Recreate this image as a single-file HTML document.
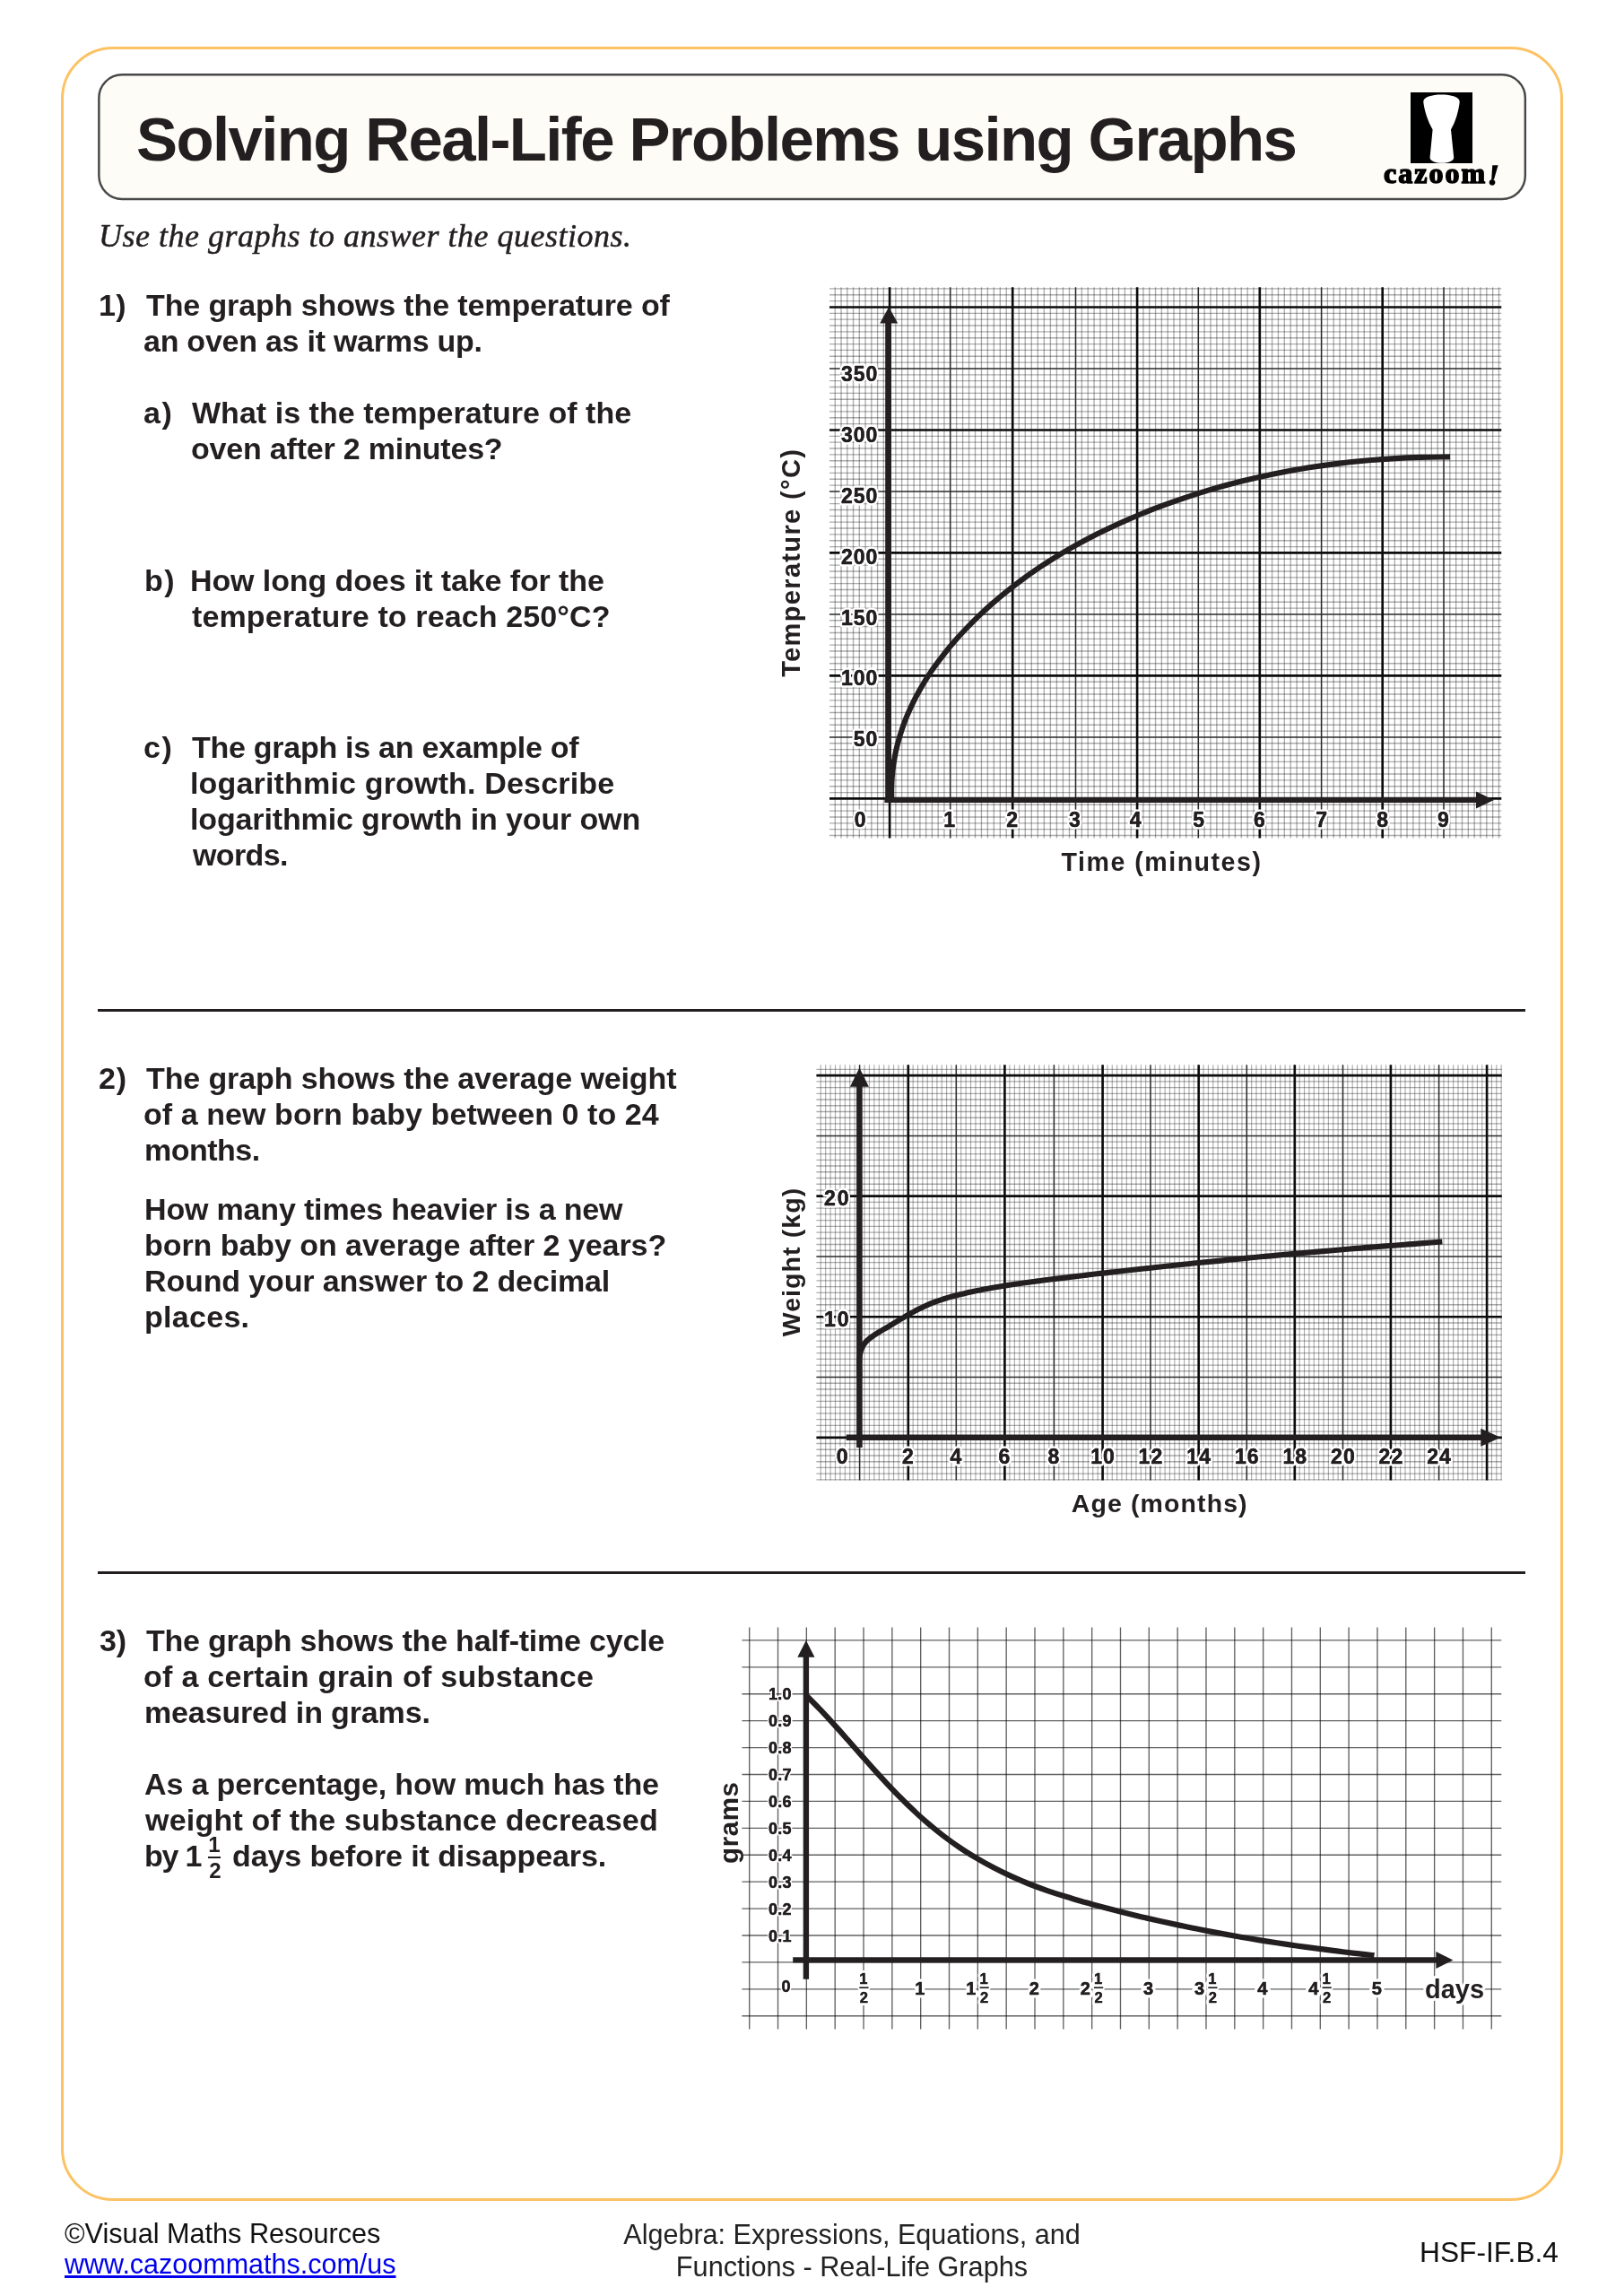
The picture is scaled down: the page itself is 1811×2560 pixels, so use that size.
<!DOCTYPE html>
<html><head><meta charset="utf-8"><title>Solving Real-Life Problems using Graphs</title>
<style>
html,body{margin:0;padding:0;background:#fff}
body>*{will-change:transform}
body{width:1811px;height:2560px;position:relative;overflow:hidden;font-family:"Liberation Sans",sans-serif;color:#231f20}
.frame{position:absolute;left:68px;top:51.7px;width:1668.9px;height:2395.7px;border:3px solid #fcc263;border-radius:58px}
.title{position:absolute;left:151.9px;top:116.4px;font-size:69px;font-weight:bold;line-height:80px;letter-spacing:-1.64px;white-space:nowrap;color:#231f20}
.sub{position:absolute;left:110px;top:242.2px;font-family:"Liberation Serif",serif;font-style:italic;font-size:36px;line-height:42px;letter-spacing:0.5px;-webkit-text-stroke:0.5px #231f20;white-space:nowrap;color:#231f20}
.q{position:absolute;font-size:34px;font-weight:bold;line-height:40px;white-space:nowrap;color:#231f20}
.rule{position:absolute;left:109.4px;width:1591.9px;height:3px;background:#231f20}
svg.g{position:absolute;left:0;top:0}
svg.g text{font-family:"Liberation Sans",sans-serif;font-weight:bold;fill:#231f20}
svg.g text.hl{paint-order:stroke;stroke:#fff;stroke-linejoin:round}
svg.g text.fx{stroke:#231f20;stroke-linejoin:round}
.ft{position:absolute;font-size:30.4px;line-height:36px;white-space:nowrap;color:#111}
.ft a{color:#0000ee;text-decoration:underline}
.logo{position:absolute;left:1572.5px;top:102.5px;width:69px;height:79px;background:#000}
.cz{position:absolute;left:1543px;top:175px;font-family:"Liberation Serif",serif;font-weight:bold;font-size:32px;line-height:36px;letter-spacing:2px;color:#000;-webkit-text-stroke:1.5px #000;white-space:nowrap}
.fr{position:absolute;font-size:24px;font-weight:bold;line-height:20px;color:#231f20;text-align:center;width:20px}
</style></head><body>
<div class="frame"></div>
<svg class="g" width="1811" height="240" viewBox="0 0 1811 240"><rect x="110.35" y="83.3" width="1590.5" height="138.6" rx="25.8" ry="25.8" fill="#fdfcf7" stroke="#484848" stroke-width="2.45"/></svg>
<div class="title">Solving Real-Life Problems using Graphs</div>
<div class="logo"><svg width="69" height="79" viewBox="0 0 69 79"><path d="M14.3 11 C13.4 5.2 24 2.6 34.5 2.6 C45 2.6 55.6 5.2 54.7 11 C53.4 21 50.5 32 45 41.5 L48.2 72.3 C48.6 77 41 78.8 34.9 78.8 C28.8 78.8 21.2 77 21.6 72.3 L24.6 41.5 C19.2 32 15.6 21 14.3 11 Z" fill="#fff"/></svg></div>
<div class="cz">cazoom<i style="position:relative;top:2.2px;left:1px">!</i></div>
<div class="sub">Use the graphs to answer the questions.</div>
<div class="q" style="left:109.5px;top:320.0px;letter-spacing:0.29px">1)</div>
<div class="q" style="left:162.6px;top:320.0px;letter-spacing:-0.11px">The graph shows the temperature of</div>
<div class="q" style="left:160.3px;top:360.0px;letter-spacing:-0.25px">an oven as it warms up.</div>
<div class="q" style="left:160.3px;top:440.0px;letter-spacing:1.60px">a)</div>
<div class="q" style="left:213.7px;top:440.0px;letter-spacing:0.03px">What is the temperature of the</div>
<div class="q" style="left:212.7px;top:480.0px;letter-spacing:-0.19px">oven after 2 minutes?</div>
<div class="q" style="left:160.6px;top:627.0px;letter-spacing:1.60px">b)</div>
<div class="q" style="left:211.7px;top:627.0px;letter-spacing:-0.10px">How long does it take for the</div>
<div class="q" style="left:213.7px;top:667.0px;letter-spacing:0.12px">temperature to reach 250°C?</div>
<div class="q" style="left:160.3px;top:813.0px;letter-spacing:1.60px">c)</div>
<div class="q" style="left:213.7px;top:813.0px;letter-spacing:-0.27px">The graph is an example of</div>
<div class="q" style="left:211.7px;top:853.0px;letter-spacing:0.17px">logarithmic growth. Describe</div>
<div class="q" style="left:211.7px;top:893.0px;letter-spacing:-0.14px">logarithmic growth in your own</div>
<div class="q" style="left:214.7px;top:933.0px;letter-spacing:-0.62px">words.</div>
<div class="q" style="left:109.7px;top:1182.0px;letter-spacing:0.89px">2)</div>
<div class="q" style="left:162.6px;top:1182.0px;letter-spacing:-0.11px">The graph shows the average weight</div>
<div class="q" style="left:160.3px;top:1222.0px;letter-spacing:0.07px">of a new born baby between 0 to 24</div>
<div class="q" style="left:160.6px;top:1262.0px;letter-spacing:-0.51px">months.</div>
<div class="q" style="left:160.6px;top:1328.0px;letter-spacing:-0.17px">How many times heavier is a new</div>
<div class="q" style="left:160.6px;top:1368.0px;letter-spacing:-0.05px">born baby on average after 2 years?</div>
<div class="q" style="left:160.6px;top:1408.0px;letter-spacing:-0.14px">Round your answer to 2 decimal</div>
<div class="q" style="left:160.6px;top:1448.0px;letter-spacing:0.29px">places.</div>
<div class="q" style="left:110.7px;top:1809.0px;letter-spacing:-0.11px">3)</div>
<div class="q" style="left:162.6px;top:1809.0px;letter-spacing:-0.22px">The graph shows the half-time cycle</div>
<div class="q" style="left:160.3px;top:1849.0px;letter-spacing:0.29px">of a certain grain of substance</div>
<div class="q" style="left:160.6px;top:1889.0px;letter-spacing:-0.14px">measured in grams.</div>
<div class="q" style="left:161.3px;top:1969.0px;letter-spacing:-0.13px">As a percentage, how much has the</div>
<div class="q" style="left:162.3px;top:2009.0px;letter-spacing:0.21px">weight of the substance decreased</div>
<div class="q" style="left:160.9px;top:2049.0px;letter-spacing:-1.20px">by 1</div>
<div class="q" style="left:259.2px;top:2049.0px;letter-spacing:-0.09px">days before it disappears.</div>
<div class="fr" style="left:229.2px;top:2047.4px">1</div>
<div class="fr" style="left:229.6px;top:2076.3px">2</div>
<div style="position:absolute;left:232.3px;top:2070.2px;width:13.8px;height:2.3px;background:#231f20"></div>
<div class="rule" style="top:1125.3px"></div>
<div class="rule" style="top:1751.9px"></div>
<svg class="g" width="1811" height="2560" viewBox="0 0 1811 2560">
<path d="M931.26 320.2V934.6M938.02 320.2V934.6M944.78 320.2V934.6M951.54 320.2V934.6M958.30 320.2V934.6M965.06 320.2V934.6M971.82 320.2V934.6M978.58 320.2V934.6M985.34 320.2V934.6M998.86 320.2V934.6M1005.62 320.2V934.6M1012.38 320.2V934.6M1019.14 320.2V934.6M1025.90 320.2V934.6M1032.66 320.2V934.6M1039.42 320.2V934.6M1046.18 320.2V934.6M1052.94 320.2V934.6M1066.65 320.2V934.6M1073.60 320.2V934.6M1080.55 320.2V934.6M1087.50 320.2V934.6M1094.45 320.2V934.6M1101.40 320.2V934.6M1108.35 320.2V934.6M1115.30 320.2V934.6M1122.25 320.2V934.6M1136.23 320.2V934.6M1143.26 320.2V934.6M1150.29 320.2V934.6M1157.32 320.2V934.6M1164.35 320.2V934.6M1171.38 320.2V934.6M1178.41 320.2V934.6M1185.44 320.2V934.6M1192.47 320.2V934.6M1206.36 320.2V934.6M1213.22 320.2V934.6M1220.08 320.2V934.6M1226.94 320.2V934.6M1233.80 320.2V934.6M1240.66 320.2V934.6M1247.52 320.2V934.6M1254.38 320.2V934.6M1261.24 320.2V934.6M1274.92 320.2V934.6M1281.74 320.2V934.6M1288.56 320.2V934.6M1295.38 320.2V934.6M1302.20 320.2V934.6M1309.02 320.2V934.6M1315.84 320.2V934.6M1322.66 320.2V934.6M1329.48 320.2V934.6M1343.15 320.2V934.6M1350.00 320.2V934.6M1356.85 320.2V934.6M1363.70 320.2V934.6M1370.55 320.2V934.6M1377.40 320.2V934.6M1384.25 320.2V934.6M1391.10 320.2V934.6M1397.95 320.2V934.6M1411.68 320.2V934.6M1418.56 320.2V934.6M1425.44 320.2V934.6M1432.32 320.2V934.6M1439.20 320.2V934.6M1446.08 320.2V934.6M1452.96 320.2V934.6M1459.84 320.2V934.6M1466.72 320.2V934.6M1480.41 320.2V934.6M1487.22 320.2V934.6M1494.03 320.2V934.6M1500.84 320.2V934.6M1507.65 320.2V934.6M1514.46 320.2V934.6M1521.27 320.2V934.6M1528.08 320.2V934.6M1534.89 320.2V934.6M1548.53 320.2V934.6M1555.36 320.2V934.6M1562.19 320.2V934.6M1569.02 320.2V934.6M1575.85 320.2V934.6M1582.68 320.2V934.6M1589.51 320.2V934.6M1596.34 320.2V934.6M1603.17 320.2V934.6M1616.83 320.2V934.6M1623.66 320.2V934.6M1630.49 320.2V934.6M1637.32 320.2V934.6M1644.15 320.2V934.6M1650.98 320.2V934.6M1657.81 320.2V934.6M1664.64 320.2V934.6M1671.47 320.2V934.6" stroke="#000" stroke-opacity="0.32" stroke-width="1.35" fill="none"/>
<path d="M925.0 321.93H1674.3M925.0 328.78H1674.3M925.0 335.63H1674.3M925.0 349.33H1674.3M925.0 356.18H1674.3M925.0 363.03H1674.3M925.0 369.88H1674.3M925.0 376.72H1674.3M925.0 383.57H1674.3M925.0 390.42H1674.3M925.0 397.27H1674.3M925.0 404.12H1674.3M925.0 417.82H1674.3M925.0 424.67H1674.3M925.0 431.52H1674.3M925.0 438.37H1674.3M925.0 445.21H1674.3M925.0 452.06H1674.3M925.0 458.91H1674.3M925.0 465.76H1674.3M925.0 472.61H1674.3M925.0 486.31H1674.3M925.0 493.16H1674.3M925.0 500.01H1674.3M925.0 506.86H1674.3M925.0 513.70H1674.3M925.0 520.55H1674.3M925.0 527.40H1674.3M925.0 534.25H1674.3M925.0 541.10H1674.3M925.0 554.80H1674.3M925.0 561.65H1674.3M925.0 568.50H1674.3M925.0 575.35H1674.3M925.0 582.19H1674.3M925.0 589.04H1674.3M925.0 595.89H1674.3M925.0 602.74H1674.3M925.0 609.59H1674.3M925.0 623.29H1674.3M925.0 630.14H1674.3M925.0 636.99H1674.3M925.0 643.84H1674.3M925.0 650.68H1674.3M925.0 657.53H1674.3M925.0 664.38H1674.3M925.0 671.23H1674.3M925.0 678.08H1674.3M925.0 691.78H1674.3M925.0 698.63H1674.3M925.0 705.48H1674.3M925.0 712.33H1674.3M925.0 719.17H1674.3M925.0 726.02H1674.3M925.0 732.87H1674.3M925.0 739.72H1674.3M925.0 746.57H1674.3M925.0 760.27H1674.3M925.0 767.12H1674.3M925.0 773.97H1674.3M925.0 780.82H1674.3M925.0 787.66H1674.3M925.0 794.51H1674.3M925.0 801.36H1674.3M925.0 808.21H1674.3M925.0 815.06H1674.3M925.0 828.76H1674.3M925.0 835.61H1674.3M925.0 842.46H1674.3M925.0 849.31H1674.3M925.0 856.15H1674.3M925.0 863.00H1674.3M925.0 869.85H1674.3M925.0 876.70H1674.3M925.0 883.55H1674.3M925.0 897.25H1674.3M925.0 904.10H1674.3M925.0 910.95H1674.3M925.0 917.80H1674.3M925.0 924.64H1674.3M925.0 931.49H1674.3" stroke="#000" stroke-opacity="0.32" stroke-width="1.35" fill="none"/>
<path d="M1059.70 320.2V934.6M1199.50 320.2V934.6M1336.30 320.2V934.6M1473.60 320.2V934.6M1610.00 320.2V934.6M925.0 410.97H1674.3M925.0 547.95H1674.3M925.0 684.93H1674.3M925.0 821.91H1674.3" stroke="#2a2a2a" stroke-width="1.55" fill="none"/>
<path d="M992.10 320.2V934.6M1129.20 320.2V934.6M1268.10 320.2V934.6M1404.80 320.2V934.6M1541.70 320.2V934.6M925.0 342.48H1674.3M925.0 479.46H1674.3M925.0 616.44H1674.3M925.0 753.42H1674.3M925.0 890.40H1674.3" stroke="#0c0c0c" stroke-width="2.65" fill="none"/>
<path d="M994.4 890.7 C994.3 890.3 994.3 889.5 994.3 888.3 C994.3 887.1 994.2 885.4 994.2 883.5 C994.2 881.6 994.2 879.3 994.3 876.9 C994.4 874.5 994.5 871.8 994.6 869.0 C994.8 866.1 995.1 863.0 995.4 859.8 C995.8 856.6 996.2 853.2 996.8 849.7 C997.4 846.1 998.0 842.4 998.8 838.6 C999.7 834.8 1000.6 830.8 1001.7 826.8 C1002.8 822.7 1004.0 818.5 1005.5 814.3 C1006.9 810.0 1008.5 805.7 1010.2 801.2 C1012.0 796.8 1014.0 792.3 1016.1 787.7 C1018.3 783.1 1020.6 778.4 1023.2 773.8 C1025.7 769.1 1028.5 764.3 1031.4 759.5 C1034.4 754.8 1037.5 749.9 1040.9 745.1 C1044.3 740.3 1047.9 735.4 1051.7 730.6 C1055.4 725.7 1059.4 720.8 1063.6 716.0 C1067.8 711.1 1072.2 706.3 1076.8 701.5 C1081.4 696.7 1086.2 691.9 1091.1 687.1 C1096.1 682.3 1101.2 677.6 1106.6 672.9 C1111.9 668.3 1117.4 663.6 1123.1 659.1 C1128.9 654.5 1134.8 650.0 1140.9 645.5 C1146.9 641.1 1153.2 636.7 1159.7 632.3 C1166.2 628.0 1172.8 623.8 1179.6 619.6 C1186.5 615.5 1193.5 611.4 1200.7 607.4 C1207.9 603.4 1215.2 599.5 1222.7 595.7 C1230.3 592.0 1238.0 588.3 1245.8 584.7 C1253.6 581.1 1261.6 577.6 1269.8 574.2 C1277.9 570.8 1286.2 567.5 1294.6 564.4 C1303.1 561.2 1311.6 558.2 1320.3 555.3 C1329.0 552.4 1337.8 549.6 1346.7 546.9 C1355.6 544.2 1364.7 541.7 1373.9 539.3 C1383.0 536.9 1392.4 534.6 1401.8 532.5 C1411.2 530.3 1420.8 528.3 1430.4 526.5 C1440.1 524.6 1449.9 522.9 1459.8 521.3 C1469.7 519.8 1479.7 518.4 1489.9 517.1 C1500.0 515.8 1510.3 514.7 1520.7 513.8 C1531.1 512.8 1541.6 512.0 1552.2 511.4 C1562.8 510.7 1573.5 510.2 1584.3 509.9 C1595.1 509.6 1611.6 509.5 1617.1 509.4" stroke="#231f20" stroke-width="6.1" fill="none" stroke-linejoin="round"/>
<path d="M990.6 895V358" stroke="#231f20" stroke-width="6.8" fill="none"/>
<path d="M981.2 360.5L991.2 342.3L1001.2 360.5Z" fill="#231f20"/>
<path d="M986.4 891.9H1648" stroke="#231f20" stroke-width="6.4" fill="none"/>
<path d="M1646 882.6L1666 892.1L1646 901.6Z" fill="#231f20"/>
<text x="1058.9" y="922.2" font-size="23" text-anchor="middle" letter-spacing="0.6" class="hl" stroke-width="5">1</text><text x="1058.9" y="922.2" font-size="23" text-anchor="middle" letter-spacing="0.6" class="fx" stroke-width="0.45">1</text>
<text x="1128.9" y="922.2" font-size="23" text-anchor="middle" letter-spacing="0.6" class="hl" stroke-width="5">2</text><text x="1128.9" y="922.2" font-size="23" text-anchor="middle" letter-spacing="0.6" class="fx" stroke-width="0.45">2</text>
<text x="1198.7" y="922.2" font-size="23" text-anchor="middle" letter-spacing="0.6" class="hl" stroke-width="5">3</text><text x="1198.7" y="922.2" font-size="23" text-anchor="middle" letter-spacing="0.6" class="fx" stroke-width="0.45">3</text>
<text x="1266.5" y="922.2" font-size="23" text-anchor="middle" letter-spacing="0.6" class="hl" stroke-width="5">4</text><text x="1266.5" y="922.2" font-size="23" text-anchor="middle" letter-spacing="0.6" class="fx" stroke-width="0.45">4</text>
<text x="1336.9" y="922.2" font-size="23" text-anchor="middle" letter-spacing="0.6" class="hl" stroke-width="5">5</text><text x="1336.9" y="922.2" font-size="23" text-anchor="middle" letter-spacing="0.6" class="fx" stroke-width="0.45">5</text>
<text x="1404.8" y="922.2" font-size="23" text-anchor="middle" letter-spacing="0.6" class="hl" stroke-width="5">6</text><text x="1404.8" y="922.2" font-size="23" text-anchor="middle" letter-spacing="0.6" class="fx" stroke-width="0.45">6</text>
<text x="1473.9" y="922.2" font-size="23" text-anchor="middle" letter-spacing="0.6" class="hl" stroke-width="5">7</text><text x="1473.9" y="922.2" font-size="23" text-anchor="middle" letter-spacing="0.6" class="fx" stroke-width="0.45">7</text>
<text x="1541.9" y="922.2" font-size="23" text-anchor="middle" letter-spacing="0.6" class="hl" stroke-width="5">8</text><text x="1541.9" y="922.2" font-size="23" text-anchor="middle" letter-spacing="0.6" class="fx" stroke-width="0.45">8</text>
<text x="1609.7" y="922.2" font-size="23" text-anchor="middle" letter-spacing="0.6" class="hl" stroke-width="5">9</text><text x="1609.7" y="922.2" font-size="23" text-anchor="middle" letter-spacing="0.6" class="fx" stroke-width="0.45">9</text>
<text x="959.4" y="922.2" font-size="23" text-anchor="middle" letter-spacing="0.6" class="hl" stroke-width="5">0</text><text x="959.4" y="922.2" font-size="23" text-anchor="middle" letter-spacing="0.6" class="fx" stroke-width="0.45">0</text>
<text x="979.4" y="832.4" font-size="23" text-anchor="end" letter-spacing="1.0" class="hl" stroke-width="5">50</text><text x="979.4" y="832.4" font-size="23" text-anchor="end" letter-spacing="1.0" class="fx" stroke-width="0.45">50</text>
<text x="979.4" y="764.4" font-size="23" text-anchor="end" letter-spacing="1.0" class="hl" stroke-width="5">100</text><text x="979.4" y="764.4" font-size="23" text-anchor="end" letter-spacing="1.0" class="fx" stroke-width="0.45">100</text>
<text x="979.4" y="696.5" font-size="23" text-anchor="end" letter-spacing="1.0" class="hl" stroke-width="5">150</text><text x="979.4" y="696.5" font-size="23" text-anchor="end" letter-spacing="1.0" class="fx" stroke-width="0.45">150</text>
<text x="979.4" y="628.5" font-size="23" text-anchor="end" letter-spacing="1.0" class="hl" stroke-width="5">200</text><text x="979.4" y="628.5" font-size="23" text-anchor="end" letter-spacing="1.0" class="fx" stroke-width="0.45">200</text>
<text x="979.4" y="560.6" font-size="23" text-anchor="end" letter-spacing="1.0" class="hl" stroke-width="5">250</text><text x="979.4" y="560.6" font-size="23" text-anchor="end" letter-spacing="1.0" class="fx" stroke-width="0.45">250</text>
<text x="979.4" y="492.7" font-size="23" text-anchor="end" letter-spacing="1.0" class="hl" stroke-width="5">300</text><text x="979.4" y="492.7" font-size="23" text-anchor="end" letter-spacing="1.0" class="fx" stroke-width="0.45">300</text>
<text x="979.4" y="424.7" font-size="23" text-anchor="end" letter-spacing="1.0" class="hl" stroke-width="5">350</text><text x="979.4" y="424.7" font-size="23" text-anchor="end" letter-spacing="1.0" class="fx" stroke-width="0.45">350</text>
<text x="1295.5" y="971.3" font-size="28.6" text-anchor="middle" letter-spacing="1.5" class="ax">Time (minutes)</text>
<text transform="translate(892.3 627.3) rotate(-90)" font-size="29" text-anchor="middle" letter-spacing="1.35" class="ax">Temperature (°C)</text>
<path d="M915.24 1187.2V1650.4M920.66 1187.2V1650.4M926.08 1187.2V1650.4M931.50 1187.2V1650.4M936.92 1187.2V1650.4M942.34 1187.2V1650.4M947.76 1187.2V1650.4M953.18 1187.2V1650.4M964.02 1187.2V1650.4M969.44 1187.2V1650.4M974.86 1187.2V1650.4M980.28 1187.2V1650.4M985.70 1187.2V1650.4M991.12 1187.2V1650.4M996.54 1187.2V1650.4M1001.96 1187.2V1650.4M1007.38 1187.2V1650.4M1018.15 1187.2V1650.4M1023.50 1187.2V1650.4M1028.85 1187.2V1650.4M1034.20 1187.2V1650.4M1039.55 1187.2V1650.4M1044.90 1187.2V1650.4M1050.25 1187.2V1650.4M1055.60 1187.2V1650.4M1060.95 1187.2V1650.4M1071.71 1187.2V1650.4M1077.12 1187.2V1650.4M1082.53 1187.2V1650.4M1087.94 1187.2V1650.4M1093.35 1187.2V1650.4M1098.76 1187.2V1650.4M1104.17 1187.2V1650.4M1109.58 1187.2V1650.4M1114.99 1187.2V1650.4M1125.90 1187.2V1650.4M1131.40 1187.2V1650.4M1136.90 1187.2V1650.4M1142.40 1187.2V1650.4M1147.90 1187.2V1650.4M1153.40 1187.2V1650.4M1158.90 1187.2V1650.4M1164.40 1187.2V1650.4M1169.90 1187.2V1650.4M1180.82 1187.2V1650.4M1186.24 1187.2V1650.4M1191.66 1187.2V1650.4M1197.08 1187.2V1650.4M1202.50 1187.2V1650.4M1207.92 1187.2V1650.4M1213.34 1187.2V1650.4M1218.76 1187.2V1650.4M1224.18 1187.2V1650.4M1234.94 1187.2V1650.4M1240.28 1187.2V1650.4M1245.62 1187.2V1650.4M1250.96 1187.2V1650.4M1256.30 1187.2V1650.4M1261.64 1187.2V1650.4M1266.98 1187.2V1650.4M1272.32 1187.2V1650.4M1277.66 1187.2V1650.4M1288.37 1187.2V1650.4M1293.74 1187.2V1650.4M1299.11 1187.2V1650.4M1304.48 1187.2V1650.4M1309.85 1187.2V1650.4M1315.22 1187.2V1650.4M1320.59 1187.2V1650.4M1325.96 1187.2V1650.4M1331.33 1187.2V1650.4M1342.06 1187.2V1650.4M1347.42 1187.2V1650.4M1352.78 1187.2V1650.4M1358.14 1187.2V1650.4M1363.50 1187.2V1650.4M1368.86 1187.2V1650.4M1374.22 1187.2V1650.4M1379.58 1187.2V1650.4M1384.94 1187.2V1650.4M1395.65 1187.2V1650.4M1401.00 1187.2V1650.4M1406.35 1187.2V1650.4M1411.70 1187.2V1650.4M1417.05 1187.2V1650.4M1422.40 1187.2V1650.4M1427.75 1187.2V1650.4M1433.10 1187.2V1650.4M1438.45 1187.2V1650.4M1449.17 1187.2V1650.4M1454.54 1187.2V1650.4M1459.91 1187.2V1650.4M1465.28 1187.2V1650.4M1470.65 1187.2V1650.4M1476.02 1187.2V1650.4M1481.39 1187.2V1650.4M1486.76 1187.2V1650.4M1492.13 1187.2V1650.4M1502.84 1187.2V1650.4M1508.18 1187.2V1650.4M1513.52 1187.2V1650.4M1518.86 1187.2V1650.4M1524.20 1187.2V1650.4M1529.54 1187.2V1650.4M1534.88 1187.2V1650.4M1540.22 1187.2V1650.4M1545.56 1187.2V1650.4M1556.27 1187.2V1650.4M1561.64 1187.2V1650.4M1567.01 1187.2V1650.4M1572.38 1187.2V1650.4M1577.75 1187.2V1650.4M1583.12 1187.2V1650.4M1588.49 1187.2V1650.4M1593.86 1187.2V1650.4M1599.23 1187.2V1650.4M1609.95 1187.2V1650.4M1615.30 1187.2V1650.4M1620.65 1187.2V1650.4M1626.00 1187.2V1650.4M1631.35 1187.2V1650.4M1636.70 1187.2V1650.4M1642.05 1187.2V1650.4M1647.40 1187.2V1650.4M1652.75 1187.2V1650.4M1663.45 1187.2V1650.4M1668.80 1187.2V1650.4M1674.15 1187.2V1650.4" stroke="#000" stroke-opacity="0.32" stroke-width="1.15" fill="none"/>
<path d="M910.4 1192.39H1674.8M910.4 1205.85H1674.8M910.4 1212.58H1674.8M910.4 1219.30H1674.8M910.4 1226.03H1674.8M910.4 1232.76H1674.8M910.4 1239.49H1674.8M910.4 1246.22H1674.8M910.4 1252.94H1674.8M910.4 1259.67H1674.8M910.4 1273.13H1674.8M910.4 1279.86H1674.8M910.4 1286.58H1674.8M910.4 1293.31H1674.8M910.4 1300.04H1674.8M910.4 1306.77H1674.8M910.4 1313.50H1674.8M910.4 1320.22H1674.8M910.4 1326.95H1674.8M910.4 1340.41H1674.8M910.4 1347.14H1674.8M910.4 1353.86H1674.8M910.4 1360.59H1674.8M910.4 1367.32H1674.8M910.4 1374.05H1674.8M910.4 1380.78H1674.8M910.4 1387.50H1674.8M910.4 1394.23H1674.8M910.4 1407.69H1674.8M910.4 1414.42H1674.8M910.4 1421.14H1674.8M910.4 1427.87H1674.8M910.4 1434.60H1674.8M910.4 1441.33H1674.8M910.4 1448.06H1674.8M910.4 1454.78H1674.8M910.4 1461.51H1674.8M910.4 1474.97H1674.8M910.4 1481.70H1674.8M910.4 1488.42H1674.8M910.4 1495.15H1674.8M910.4 1501.88H1674.8M910.4 1508.61H1674.8M910.4 1515.34H1674.8M910.4 1522.06H1674.8M910.4 1528.79H1674.8M910.4 1542.25H1674.8M910.4 1548.98H1674.8M910.4 1555.70H1674.8M910.4 1562.43H1674.8M910.4 1569.16H1674.8M910.4 1575.89H1674.8M910.4 1582.62H1674.8M910.4 1589.34H1674.8M910.4 1596.07H1674.8M910.4 1609.53H1674.8M910.4 1616.26H1674.8M910.4 1622.98H1674.8M910.4 1629.71H1674.8M910.4 1636.44H1674.8M910.4 1643.17H1674.8M910.4 1649.90H1674.8" stroke="#000" stroke-opacity="0.32" stroke-width="1.35" fill="none"/>
<path d="M958.60 1187.2V1650.4M1066.30 1187.2V1650.4M1175.40 1187.2V1650.4M1283.00 1187.2V1650.4M1390.30 1187.2V1650.4M1497.50 1187.2V1650.4M1604.60 1187.2V1650.4M910.4 1266.40H1674.8M910.4 1400.96H1674.8M910.4 1535.52H1674.8" stroke="#2a2a2a" stroke-width="1.55" fill="none"/>
<path d="M1012.80 1187.2V1650.4M1120.40 1187.2V1650.4M1229.60 1187.2V1650.4M1336.70 1187.2V1650.4M1443.80 1187.2V1650.4M1550.90 1187.2V1650.4M1658.10 1187.2V1650.4M910.4 1199.12H1674.8M910.4 1333.68H1674.8M910.4 1468.24H1674.8M910.4 1602.80H1674.8" stroke="#0c0c0c" stroke-width="2.65" fill="none"/>
<path d="M958.5 1535.0 C958.5 1534.9 958.5 1534.8 958.5 1534.6 C958.5 1534.4 958.5 1534.0 958.5 1533.6 C958.4 1533.2 958.4 1532.6 958.4 1532.0 C958.4 1531.4 958.4 1530.7 958.3 1529.9 C958.3 1529.1 958.3 1528.2 958.2 1527.2 C958.2 1526.2 958.2 1525.1 958.1 1523.9 C958.1 1522.7 958.1 1521.5 958.1 1520.1 C958.1 1518.7 958.2 1517.3 958.3 1515.8 C958.4 1514.3 958.5 1512.7 958.8 1511.1 C959.1 1509.5 959.4 1507.8 960.0 1506.2 C960.5 1504.5 961.2 1502.9 962.0 1501.3 C962.9 1499.7 963.9 1498.1 965.1 1496.7 C966.3 1495.2 967.8 1493.9 969.3 1492.6 C970.9 1491.2 972.7 1490.0 974.6 1488.8 C976.4 1487.5 978.5 1486.4 980.5 1485.1 C982.6 1483.9 984.7 1482.6 986.9 1481.3 C989.1 1480.0 991.3 1478.7 993.6 1477.3 C995.9 1475.9 998.2 1474.5 1000.6 1473.1 C1003.0 1471.7 1005.4 1470.2 1007.9 1468.8 C1010.4 1467.3 1012.9 1465.9 1015.5 1464.4 C1018.2 1463.0 1020.8 1461.5 1023.6 1460.1 C1026.4 1458.7 1029.2 1457.3 1032.1 1456.0 C1035.1 1454.7 1038.1 1453.4 1041.2 1452.2 C1044.3 1451.0 1047.5 1449.9 1050.8 1448.8 C1054.1 1447.8 1057.5 1446.7 1060.9 1445.8 C1064.4 1444.8 1067.9 1443.9 1071.5 1443.0 C1075.1 1442.2 1078.8 1441.3 1082.5 1440.5 C1086.3 1439.7 1090.0 1438.9 1093.9 1438.2 C1097.8 1437.4 1101.7 1436.7 1105.6 1436.0 C1109.6 1435.3 1113.7 1434.6 1117.8 1433.9 C1121.8 1433.3 1126.0 1432.6 1130.2 1432.0 C1134.4 1431.4 1138.7 1430.8 1143.0 1430.2 C1147.3 1429.6 1151.7 1429.0 1156.2 1428.4 C1160.6 1427.9 1165.1 1427.3 1169.6 1426.7 C1174.2 1426.2 1178.8 1425.6 1183.4 1425.1 C1188.1 1424.5 1192.8 1423.9 1197.6 1423.4 C1202.3 1422.8 1207.2 1422.2 1212.0 1421.6 C1216.9 1421.1 1221.8 1420.5 1226.8 1419.9 C1231.8 1419.4 1236.8 1418.8 1241.9 1418.2 C1247.0 1417.6 1252.1 1417.0 1257.3 1416.5 C1262.5 1415.9 1267.7 1415.3 1273.0 1414.7 C1278.3 1414.2 1283.6 1413.6 1289.0 1413.0 C1294.4 1412.4 1299.9 1411.8 1305.4 1411.3 C1310.9 1410.7 1316.4 1410.1 1322.0 1409.5 C1327.6 1409.0 1333.3 1408.4 1339.0 1407.8 C1344.7 1407.2 1350.5 1406.7 1356.3 1406.1 C1362.1 1405.5 1368.0 1404.9 1373.9 1404.4 C1379.8 1403.8 1385.7 1403.2 1391.8 1402.6 C1397.8 1402.1 1403.8 1401.5 1409.9 1400.9 C1416.1 1400.4 1422.2 1399.8 1428.4 1399.2 C1434.7 1398.7 1440.9 1398.1 1447.2 1397.5 C1453.5 1397.0 1459.9 1396.4 1466.3 1395.9 C1472.7 1395.3 1479.2 1394.8 1485.7 1394.2 C1492.2 1393.6 1498.8 1393.1 1505.4 1392.5 C1512.0 1392.0 1518.7 1391.5 1525.4 1390.9 C1532.1 1390.4 1538.9 1389.8 1545.7 1389.3 C1552.5 1388.7 1559.4 1388.2 1566.3 1387.7 C1573.2 1387.1 1580.1 1386.6 1587.1 1386.1 C1594.2 1385.6 1604.8 1384.8 1608.3 1384.5" stroke="#231f20" stroke-width="6.1" fill="none" stroke-linejoin="round"/>
<path d="M958.4 1614V1208" stroke="#231f20" stroke-width="6.6" fill="none"/>
<path d="M947.9 1211.8L958.4 1190.6L968.9 1211.8Z" fill="#231f20"/>
<path d="M943.7 1602.8H1653" stroke="#231f20" stroke-width="6.4" fill="none"/>
<path d="M1651.3 1592.8L1673.5 1602.8L1651.3 1612.8Z" fill="#231f20"/>
<text x="939.5" y="1631.8" font-size="23" text-anchor="middle" letter-spacing="0.6" class="hl" stroke-width="5">0</text><text x="939.5" y="1631.8" font-size="23" text-anchor="middle" letter-spacing="0.6" class="fx" stroke-width="0.45">0</text>
<text x="1012.3" y="1631.8" font-size="23" text-anchor="middle" letter-spacing="0" class="hl" stroke-width="5">2</text><text x="1012.3" y="1631.8" font-size="23" text-anchor="middle" letter-spacing="0" class="fx" stroke-width="0.45">2</text>
<text x="1065.8" y="1631.8" font-size="23" text-anchor="middle" letter-spacing="0" class="hl" stroke-width="5">4</text><text x="1065.8" y="1631.8" font-size="23" text-anchor="middle" letter-spacing="0" class="fx" stroke-width="0.45">4</text>
<text x="1119.9" y="1631.8" font-size="23" text-anchor="middle" letter-spacing="0" class="hl" stroke-width="5">6</text><text x="1119.9" y="1631.8" font-size="23" text-anchor="middle" letter-spacing="0" class="fx" stroke-width="0.45">6</text>
<text x="1174.9" y="1631.8" font-size="23" text-anchor="middle" letter-spacing="0" class="hl" stroke-width="5">8</text><text x="1174.9" y="1631.8" font-size="23" text-anchor="middle" letter-spacing="0" class="fx" stroke-width="0.45">8</text>
<text x="1230.1" y="1631.8" font-size="23" text-anchor="middle" letter-spacing="1.1" class="hl" stroke-width="5">10</text><text x="1230.1" y="1631.8" font-size="23" text-anchor="middle" letter-spacing="1.1" class="fx" stroke-width="0.45">10</text>
<text x="1283.5" y="1631.8" font-size="23" text-anchor="middle" letter-spacing="1.1" class="hl" stroke-width="5">12</text><text x="1283.5" y="1631.8" font-size="23" text-anchor="middle" letter-spacing="1.1" class="fx" stroke-width="0.45">12</text>
<text x="1337.2" y="1631.8" font-size="23" text-anchor="middle" letter-spacing="1.1" class="hl" stroke-width="5">14</text><text x="1337.2" y="1631.8" font-size="23" text-anchor="middle" letter-spacing="1.1" class="fx" stroke-width="0.45">14</text>
<text x="1390.8" y="1631.8" font-size="23" text-anchor="middle" letter-spacing="1.1" class="hl" stroke-width="5">16</text><text x="1390.8" y="1631.8" font-size="23" text-anchor="middle" letter-spacing="1.1" class="fx" stroke-width="0.45">16</text>
<text x="1444.3" y="1631.8" font-size="23" text-anchor="middle" letter-spacing="1.1" class="hl" stroke-width="5">18</text><text x="1444.3" y="1631.8" font-size="23" text-anchor="middle" letter-spacing="1.1" class="fx" stroke-width="0.45">18</text>
<text x="1498.0" y="1631.8" font-size="23" text-anchor="middle" letter-spacing="1.1" class="hl" stroke-width="5">20</text><text x="1498.0" y="1631.8" font-size="23" text-anchor="middle" letter-spacing="1.1" class="fx" stroke-width="0.45">20</text>
<text x="1551.4" y="1631.8" font-size="23" text-anchor="middle" letter-spacing="1.1" class="hl" stroke-width="5">22</text><text x="1551.4" y="1631.8" font-size="23" text-anchor="middle" letter-spacing="1.1" class="fx" stroke-width="0.45">22</text>
<text x="1605.1" y="1631.8" font-size="23" text-anchor="middle" letter-spacing="1.1" class="hl" stroke-width="5">24</text><text x="1605.1" y="1631.8" font-size="23" text-anchor="middle" letter-spacing="1.1" class="fx" stroke-width="0.45">24</text>
<text x="948.3" y="1344.3" font-size="23" text-anchor="end" letter-spacing="1.8" class="hl" stroke-width="5">20</text><text x="948.3" y="1344.3" font-size="23" text-anchor="end" letter-spacing="1.8" class="fx" stroke-width="0.45">20</text>
<text x="948.3" y="1478.8" font-size="23" text-anchor="end" letter-spacing="1.8" class="hl" stroke-width="5">10</text><text x="948.3" y="1478.8" font-size="23" text-anchor="end" letter-spacing="1.8" class="fx" stroke-width="0.45">10</text>
<text x="1293.3" y="1685.6" font-size="28.5" text-anchor="middle" letter-spacing="1.1" class="ax">Age (months)</text>
<text transform="translate(891.5 1407) rotate(-90)" font-size="28.5" text-anchor="middle" letter-spacing="1.1" class="ax">Weight (kg)</text>
<path d="M835.70 1814.5V2262.4M867.53 1814.5V2262.4M899.36 1814.5V2262.4M931.19 1814.5V2262.4M963.02 1814.5V2262.4M994.85 1814.5V2262.4M1026.68 1814.5V2262.4M1058.51 1814.5V2262.4M1090.34 1814.5V2262.4M1122.17 1814.5V2262.4M1154.00 1814.5V2262.4M1185.83 1814.5V2262.4M1217.66 1814.5V2262.4M1249.49 1814.5V2262.4M1281.32 1814.5V2262.4M1313.15 1814.5V2262.4M1344.98 1814.5V2262.4M1376.81 1814.5V2262.4M1408.64 1814.5V2262.4M1440.47 1814.5V2262.4M1472.30 1814.5V2262.4M1504.13 1814.5V2262.4M1535.96 1814.5V2262.4M1567.79 1814.5V2262.4M1599.62 1814.5V2262.4M1631.45 1814.5V2262.4M1663.28 1814.5V2262.4" stroke="#000" stroke-opacity="0.62" stroke-width="1.35" fill="none"/>
<path d="M827.4 1828.90H1674.3M827.4 1858.82H1674.3M827.4 1888.74H1674.3M827.4 1918.66H1674.3M827.4 1948.58H1674.3M827.4 1978.50H1674.3M827.4 2008.42H1674.3M827.4 2038.34H1674.3M827.4 2068.26H1674.3M827.4 2098.18H1674.3M827.4 2128.10H1674.3M827.4 2158.02H1674.3M827.4 2187.94H1674.3M827.4 2217.86H1674.3M827.4 2247.78H1674.3" stroke="#000" stroke-opacity="0.62" stroke-width="1.35" fill="none"/>
<path d="M899.7 1891.0 C902.3 1893.6 909.9 1901.2 914.9 1906.4 C919.9 1911.6 924.9 1917.0 929.7 1922.4 C934.6 1927.7 939.5 1933.2 944.3 1938.7 C949.2 1944.1 954.0 1949.7 958.8 1955.1 C963.7 1960.6 968.5 1966.2 973.4 1971.6 C978.4 1977.1 983.3 1982.5 988.3 1987.9 C993.3 1993.2 998.4 1998.6 1003.6 2003.8 C1008.7 2009.0 1013.9 2014.1 1019.3 2019.1 C1024.6 2024.1 1030.1 2029.0 1035.6 2033.7 C1041.2 2038.4 1046.9 2043.0 1052.6 2047.4 C1058.4 2051.8 1064.4 2056.1 1070.4 2060.1 C1076.4 2064.2 1082.6 2068.0 1088.8 2071.7 C1095.1 2075.5 1101.4 2079.0 1107.9 2082.3 C1114.3 2085.7 1120.8 2088.9 1127.5 2091.9 C1134.1 2094.9 1140.8 2097.8 1147.5 2100.5 C1154.3 2103.2 1161.1 2105.7 1168.0 2108.1 C1174.9 2110.5 1181.9 2112.7 1188.9 2114.8 C1195.8 2117.0 1202.9 2119.0 1209.9 2121.0 C1216.9 2123.0 1224.0 2124.9 1231.1 2126.8 C1238.1 2128.6 1245.2 2130.4 1252.3 2132.2 C1259.4 2134.0 1266.5 2135.7 1273.6 2137.4 C1280.7 2139.1 1287.8 2140.7 1294.9 2142.3 C1302.1 2143.9 1309.2 2145.4 1316.3 2146.9 C1323.5 2148.4 1330.6 2149.9 1337.8 2151.3 C1345.0 2152.7 1352.1 2154.0 1359.3 2155.4 C1366.5 2156.7 1373.7 2158.0 1380.9 2159.2 C1388.0 2160.5 1395.2 2161.7 1402.4 2162.9 C1409.6 2164.0 1416.9 2165.2 1424.1 2166.3 C1431.3 2167.4 1438.5 2168.4 1445.7 2169.5 C1452.9 2170.5 1460.2 2171.5 1467.4 2172.4 C1474.6 2173.4 1481.9 2174.3 1489.1 2175.2 C1496.3 2176.1 1503.6 2177.0 1510.8 2177.8 C1518.0 2178.7 1528.9 2179.8 1532.5 2180.2" stroke="#231f20" stroke-width="6.2" fill="none" stroke-linejoin="round"/>
<path d="M898.9 2206.8V1845" stroke="#231f20" stroke-width="6.4" fill="none"/>
<path d="M889.3 1847.8L898.9 1829L908.5 1847.8Z" fill="#231f20"/>
<path d="M884.2 2185.3H1603" stroke="#231f20" stroke-width="6.2" fill="none"/>
<path d="M1601.3 2175.9L1620.4 2185.4L1601.3 2194.9Z" fill="#231f20"/>
<text x="882.6" y="2164.6" font-size="18" text-anchor="end" letter-spacing="0.2" class="hl" stroke-width="3.5">0.1</text><text x="882.6" y="2164.6" font-size="18" text-anchor="end" letter-spacing="0.2" class="fx" stroke-width="0.45">0.1</text>
<text x="882.6" y="2134.7" font-size="18" text-anchor="end" letter-spacing="0.2" class="hl" stroke-width="3.5">0.2</text><text x="882.6" y="2134.7" font-size="18" text-anchor="end" letter-spacing="0.2" class="fx" stroke-width="0.45">0.2</text>
<text x="882.6" y="2104.8" font-size="18" text-anchor="end" letter-spacing="0.2" class="hl" stroke-width="3.5">0.3</text><text x="882.6" y="2104.8" font-size="18" text-anchor="end" letter-spacing="0.2" class="fx" stroke-width="0.45">0.3</text>
<text x="882.6" y="2074.9" font-size="18" text-anchor="end" letter-spacing="0.2" class="hl" stroke-width="3.5">0.4</text><text x="882.6" y="2074.9" font-size="18" text-anchor="end" letter-spacing="0.2" class="fx" stroke-width="0.45">0.4</text>
<text x="882.6" y="2044.9" font-size="18" text-anchor="end" letter-spacing="0.2" class="hl" stroke-width="3.5">0.5</text><text x="882.6" y="2044.9" font-size="18" text-anchor="end" letter-spacing="0.2" class="fx" stroke-width="0.45">0.5</text>
<text x="882.6" y="2015.0" font-size="18" text-anchor="end" letter-spacing="0.2" class="hl" stroke-width="3.5">0.6</text><text x="882.6" y="2015.0" font-size="18" text-anchor="end" letter-spacing="0.2" class="fx" stroke-width="0.45">0.6</text>
<text x="882.6" y="1985.1" font-size="18" text-anchor="end" letter-spacing="0.2" class="hl" stroke-width="3.5">0.7</text><text x="882.6" y="1985.1" font-size="18" text-anchor="end" letter-spacing="0.2" class="fx" stroke-width="0.45">0.7</text>
<text x="882.6" y="1955.2" font-size="18" text-anchor="end" letter-spacing="0.2" class="hl" stroke-width="3.5">0.8</text><text x="882.6" y="1955.2" font-size="18" text-anchor="end" letter-spacing="0.2" class="fx" stroke-width="0.45">0.8</text>
<text x="882.6" y="1925.3" font-size="18" text-anchor="end" letter-spacing="0.2" class="hl" stroke-width="3.5">0.9</text><text x="882.6" y="1925.3" font-size="18" text-anchor="end" letter-spacing="0.2" class="fx" stroke-width="0.45">0.9</text>
<text x="882.6" y="1895.3" font-size="18" text-anchor="end" letter-spacing="0.2" class="hl" stroke-width="3.5">1.0</text><text x="882.6" y="1895.3" font-size="18" text-anchor="end" letter-spacing="0.2" class="fx" stroke-width="0.45">1.0</text>
<text x="876.5" y="2221.3" font-size="18" text-anchor="middle" letter-spacing="0" class="hl" stroke-width="3.5">0</text><text x="876.5" y="2221.3" font-size="18" text-anchor="middle" letter-spacing="0" class="fx" stroke-width="0.45">0</text>
<text x="962.8" y="2212.4" font-size="16.5" text-anchor="middle" class="hl" stroke-width="6">1</text><text x="963.4" y="2232.9" font-size="16.5" text-anchor="middle" class="hl" stroke-width="6">2</text><path d="M959.4 2216.2H967.4" stroke="#fff" stroke-width="6" stroke-linecap="round"/><text x="962.8" y="2212.4" font-size="16.5" text-anchor="middle" class="fx" stroke-width="0.4">1</text><text x="963.4" y="2232.9" font-size="16.5" text-anchor="middle" class="fx" stroke-width="0.4">2</text><path d="M958.3 2216.2H968.5" stroke="#231f20" stroke-width="1.7"/>
<text x="1025.9" y="2223.8" font-size="20" text-anchor="middle" letter-spacing="0" class="hl" stroke-width="7">1</text><text x="1025.9" y="2223.8" font-size="20" text-anchor="middle" letter-spacing="0" class="fx" stroke-width="0.45">1</text>
<text x="1082.8" y="2223.8" font-size="20" text-anchor="middle" letter-spacing="0" class="hl" stroke-width="7">1</text><text x="1082.8" y="2223.8" font-size="20" text-anchor="middle" letter-spacing="0" class="fx" stroke-width="0.45">1</text>
<text x="1097.1" y="2212.4" font-size="16.5" text-anchor="middle" class="hl" stroke-width="6">1</text><text x="1097.7" y="2232.9" font-size="16.5" text-anchor="middle" class="hl" stroke-width="6">2</text><path d="M1093.7 2216.2H1101.7" stroke="#fff" stroke-width="6" stroke-linecap="round"/><text x="1097.1" y="2212.4" font-size="16.5" text-anchor="middle" class="fx" stroke-width="0.4">1</text><text x="1097.7" y="2232.9" font-size="16.5" text-anchor="middle" class="fx" stroke-width="0.4">2</text><path d="M1092.6 2216.2H1102.8" stroke="#231f20" stroke-width="1.7"/>
<text x="1153.2" y="2223.8" font-size="20" text-anchor="middle" letter-spacing="0" class="hl" stroke-width="7">2</text><text x="1153.2" y="2223.8" font-size="20" text-anchor="middle" letter-spacing="0" class="fx" stroke-width="0.45">2</text>
<text x="1210.2" y="2223.8" font-size="20" text-anchor="middle" letter-spacing="0" class="hl" stroke-width="7">2</text><text x="1210.2" y="2223.8" font-size="20" text-anchor="middle" letter-spacing="0" class="fx" stroke-width="0.45">2</text>
<text x="1224.5" y="2212.4" font-size="16.5" text-anchor="middle" class="hl" stroke-width="6">1</text><text x="1225.1" y="2232.9" font-size="16.5" text-anchor="middle" class="hl" stroke-width="6">2</text><path d="M1221.1 2216.2H1229.1" stroke="#fff" stroke-width="6" stroke-linecap="round"/><text x="1224.5" y="2212.4" font-size="16.5" text-anchor="middle" class="fx" stroke-width="0.4">1</text><text x="1225.1" y="2232.9" font-size="16.5" text-anchor="middle" class="fx" stroke-width="0.4">2</text><path d="M1220.0 2216.2H1230.2" stroke="#231f20" stroke-width="1.7"/>
<text x="1280.5" y="2223.8" font-size="20" text-anchor="middle" letter-spacing="0" class="hl" stroke-width="7">3</text><text x="1280.5" y="2223.8" font-size="20" text-anchor="middle" letter-spacing="0" class="fx" stroke-width="0.45">3</text>
<text x="1337.5" y="2223.8" font-size="20" text-anchor="middle" letter-spacing="0" class="hl" stroke-width="7">3</text><text x="1337.5" y="2223.8" font-size="20" text-anchor="middle" letter-spacing="0" class="fx" stroke-width="0.45">3</text>
<text x="1351.8" y="2212.4" font-size="16.5" text-anchor="middle" class="hl" stroke-width="6">1</text><text x="1352.4" y="2232.9" font-size="16.5" text-anchor="middle" class="hl" stroke-width="6">2</text><path d="M1348.4 2216.2H1356.4" stroke="#fff" stroke-width="6" stroke-linecap="round"/><text x="1351.8" y="2212.4" font-size="16.5" text-anchor="middle" class="fx" stroke-width="0.4">1</text><text x="1352.4" y="2232.9" font-size="16.5" text-anchor="middle" class="fx" stroke-width="0.4">2</text><path d="M1347.3 2216.2H1357.5" stroke="#231f20" stroke-width="1.7"/>
<text x="1407.8" y="2223.8" font-size="20" text-anchor="middle" letter-spacing="0" class="hl" stroke-width="7">4</text><text x="1407.8" y="2223.8" font-size="20" text-anchor="middle" letter-spacing="0" class="fx" stroke-width="0.45">4</text>
<text x="1464.8" y="2223.8" font-size="20" text-anchor="middle" letter-spacing="0" class="hl" stroke-width="7">4</text><text x="1464.8" y="2223.8" font-size="20" text-anchor="middle" letter-spacing="0" class="fx" stroke-width="0.45">4</text>
<text x="1479.1" y="2212.4" font-size="16.5" text-anchor="middle" class="hl" stroke-width="6">1</text><text x="1479.7" y="2232.9" font-size="16.5" text-anchor="middle" class="hl" stroke-width="6">2</text><path d="M1475.7 2216.2H1483.7" stroke="#fff" stroke-width="6" stroke-linecap="round"/><text x="1479.1" y="2212.4" font-size="16.5" text-anchor="middle" class="fx" stroke-width="0.4">1</text><text x="1479.7" y="2232.9" font-size="16.5" text-anchor="middle" class="fx" stroke-width="0.4">2</text><path d="M1474.6 2216.2H1484.8" stroke="#231f20" stroke-width="1.7"/>
<text x="1535.2" y="2223.8" font-size="20" text-anchor="middle" letter-spacing="0" class="hl" stroke-width="7">5</text><text x="1535.2" y="2223.8" font-size="20" text-anchor="middle" letter-spacing="0" class="fx" stroke-width="0.45">5</text>
<text x="1622" y="2227.8" font-size="29" text-anchor="middle" class="hl" stroke-width="6" letter-spacing="0">days</text>
<text transform="translate(823 2032.2) rotate(-90)" font-size="29.5" text-anchor="middle" letter-spacing="0.6" class="ax">grams</text>
</svg>
<div class="ft" style="left:71.6px;top:2472px;font-size:30.65px">©Visual Maths Resources</div>
<div class="ft" style="left:72px;top:2506.4px;font-size:30.5px"><a>www.cazoommaths.com/us</a></div>
<div class="ft" style="left:649.6px;width:600px;text-align:center;top:2472.8px;color:#222;font-size:30.55px">Algebra: Expressions, Equations, and</div>
<div class="ft" style="left:649.6px;width:600px;text-align:center;top:2509.7px;color:#222;font-size:30.7px">Functions - Real-Life Graphs</div>
<div class="ft" style="left:1582.6px;top:2492.6px;font-size:31.7px">HSF-IF.B.4</div>
</body></html>
